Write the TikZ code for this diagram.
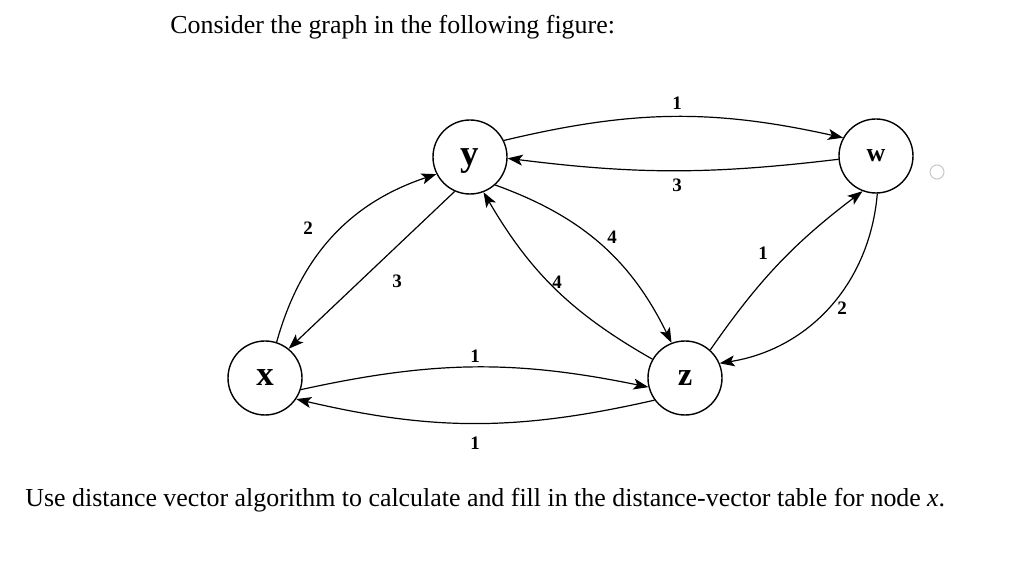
\documentclass[tikz,border=0pt]{standalone}
\usepackage{fontspec}
\setmainfont{Liberation Serif}
\usetikzlibrary{arrows.meta, positioning}

\tikzset{
  router/.style={circle, draw, line width=0.7pt, minimum size=37pt, inner sep=0pt},
  link/.style={line width=0.6pt, -{Stealth[length=7.5pt, width=5.5pt, inset=1.8pt]}},
  wt/.style={inner sep=0pt, font=\fontsize{9.5}{10}\selectfont\bfseries},
  say/.style={anchor=base west, inner sep=0pt, font=\fontsize{12.95}{14}\selectfont}
}

\begin{document}
\begin{tikzpicture}[x=0.5pt, y=0.5pt]
	\useasboundingbox (0,0) rectangle (1024,-577);
	\node[say] (title) at (170,-34) {Consider the graph in the following figure:};
	\node[say] (task) at (25,-507) {Use distance vector algorithm to calculate and fill in the distance-vector table for node \textit{x}.};
	
	\node[router, font=\fontsize{17.4}{18}\selectfont\bfseries] (x) at (265,-378) {x};
	\node[router, text depth=0pt, font=\fontsize{18.4}{18}\selectfont\bfseries] (y) at (470,-157) {y};
	\node[router, font=\fontsize{16.3}{18}\selectfont\bfseries] (z) at (685,-378) {z};
	\node[router, font=\fontsize{13}{18}\selectfont\bfseries] (w) at (876,-156) {w};
	\node[circle, draw=black!22, line width=0.5pt, minimum size=7pt, inner sep=0pt] (dot) at (937,-172) {};
	
	\draw[link] (y.26) to[bend left=13] (w.151);
	\draw[link] (w.185) to[bend left=7] (y.-2);
	\draw[link] (x.72) to[bend left=28] (y.207);
	\draw[link] (y.246) -- (x.51);
	\draw[link] (y.-48) to[bend left=22] (z.111);
	\draw[link] (z.150) to[bend left=15] (y.-69);
	\draw[link] (z.48) to[bend left=9] (w.249);
	\draw[link] (w.-88) to[bend left=38] (z.23);
	\draw[link] (x.-18) to[bend left=12] (z.194);
	\draw[link] (z.216) to[bend left=13] (x.-34);
	
	% link costs
	\node[wt] (c-yw) at (677,-103) {1};
	\node[wt] (c-wy) at (677,-185) {3};
	\node[wt] (c-xy) at (308,-228) {2};
	\node[wt] (c-yx) at (397,-281) {3};
	\node[wt] (c-yz) at (612,-237) {4};
	\node[wt] (c-zy) at (557,-282) {4};
	\node[wt] (c-zw) at (763,-253) {1};
	\node[wt] (c-wz) at (842,-308) {2};
	\node[wt] (c-xz) at (475,-356) {1};
	\node[wt] (c-zx) at (475,-443) {1};
\end{tikzpicture}
\end{document}
